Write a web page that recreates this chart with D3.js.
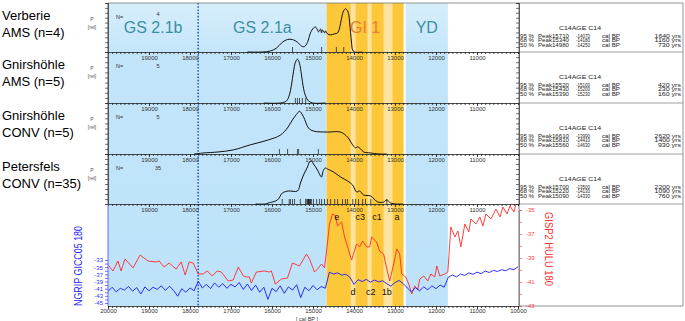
<!DOCTYPE html>
<html>
<head>
<meta charset="utf-8">
<script src="https://cdn.jsdelivr.net/npm/d3@7"></script>
<style>
body{margin:0;background:#fff;}
svg{font-family:"Liberation Sans",Arial,sans-serif;}
</style>
</head>
<body>
<svg id="chart" width="685" height="321"></svg>
<script>
// ---- data ----
var siteLabels = [["Verberie","AMS (n=4)"],["Gnirshöhle","AMS (n=5)"],["Gnirshöhle","CONV (n=5)"],["Petersfels","CONV (n=35)"]];
var sampleN = [4,5,5,35];

// summed probability curves [cal BP, relative P]
var pdfVerberieAMS = [[16600,0],[16235,0],[16040,0.02],[15890,0.08],[15746,0.20],[15624,0.255],[15501,0.255],[15379,0.20],[15281,0.12],[15208,0.11],[15134,0.20],[15061,0.39],[14988,0.49],[14939,0.51],[14890,0.45],[14866,0.41],[14817,0.47],[14793,0.39],[14768,0.45],[14719,0.39],[14695,0.43],[14646,0.37],[14573,0.35],[14474,0.37],[14401,0.39],[14352,0.49],[14303,0.69],[14254,0.84],[14205,0.88],[14156,0.84],[14132,0.78],[14107,0.61],[14083,0.39],[14059,0.18],[14034,0.04],[13985,0],[13800,0]];
var pdfGnirsAMS = [[16200,0],[15795,0],[15648,0.04],[15575,0.16],[15526,0.35],[15477,0.61],[15428,0.80],[15379,0.86],[15330,0.78],[15281,0.55],[15232,0.29],[15183,0.14],[15110,0.04],[15012,0],[14700,0]];
var pdfGnirsCONV = [[17900,0],[17677,0.02],[17311,0.04],[16944,0.08],[16528,0.18],[16112,0.27],[15795,0.37],[15624,0.51],[15501,0.67],[15379,0.80],[15330,0.84],[15232,0.73],[15110,0.51],[14988,0.45],[14646,0.43],[14328,0.43],[14156,0.33],[14034,0.18],[13961,0.12],[13912,0.14],[13839,0.10],[13765,0.04],[13594,0.02],[13399,0],[13200,0]];
var pdfPetersCONV = [[16400,0],[16161,0],[16088,0.02],[15868,0.08],[15746,0.22],[15599,0.26],[15379,0.26],[15306,0.42],[15232,0.58],[15134,0.74],[15085,0.84],[15037,0.86],[14988,0.80],[14890,0.68],[14817,0.56],[14793,0.54],[14743,0.68],[14695,0.72],[14646,0.70],[14499,0.64],[14328,0.54],[14156,0.46],[14034,0.38],[13936,0.24],[13863,0.26],[13765,0.18],[13594,0.16],[13423,0.04],[13276,0.04],[13203,0.08],[13105,0.02],[12983,0],[12800,0]];

// single dates (cal BP) marked under the curves
var datesVerberieAMS = [15500,14790,14430,14250];
var datesGnirsAMS = [15430,15380,15330,15260,15180];
var datesGnirsCONV = [15820,15620,15380,15350,14870];
var datesPetersCONV = [15750,15580,15550,15500,15450,15310,15180,15150,15130,15120,15110,15100,15090,15070,15060,15040,14990,14910,14840,14790,14720,14650,14570,14470,14400,14280,14210,14160,14030,13960,13890,13790,13720,13590,13200];

// [level %, from, to, span yrs]
var statsVerberieAMS = [[95,15710,14070,1640],[68,15340,14180,1160],[50,14980,14250,730]];
var statsGnirsAMS = [[95,15520,15100,420],[68,15430,15200,230],[50,15390,15230,160]];
var statsGnirsCONV = [[95,16610,13990,2620],[68,15810,14410,1400],[50,15560,14630,930]];
var statsPetersCONV = [[95,15700,13500,2200],[68,15220,14130,1090],[50,15090,14330,760]];

// climate periods (cal BP)
var periods = [["GS 2.1b",20000,17800,"stadial"],["GS 2.1a",17800,14670,"stadial"],["GI 1",14670,12790,"gi"],["YD",12740,11710,"stadial"]];
var giLightPhases = [[14080,13960],[13670,13570],[13280,13060]];
var gsBoundary = 17800;
var giEvents = [["e",14420,"top"],["c3",13850,"top"],["c1",13440,"top"],["a",12950,"top"],["d",14025,"bottom"],["c2",13590,"bottom"],["1b",13200,"bottom"]];

// GISP2 HULU d18O [cal BP, permil]
var gisp2 = [[20000,-39.58],[19878,-40.08],[19756,-39.25],[19682,-40.08],[19584,-39.08],[19389,-39.83],[19218,-38.75],[19022,-39.25],[18826,-39.33],[18753,-39.25],[18631,-39.75],[18509,-39.42],[18337,-39.92],[18215,-39.33],[18117,-40.42],[18020,-39.33],[17922,-39.42],[17800,-40.33],[17677,-40.33],[17579,-40.08],[17457,-40.5],[17335,-40.08],[17237,-40.17],[17066,-40.92],[16944,-40.83],[16822,-39.75],[16699,-40.5],[16626,-40.58],[16553,-40.58],[16504,-41.08],[16381,-40.17],[16186,-40.08],[16064,-40.17],[16015,-40.08],[15917,-41.17],[15770,-40.75],[15623,-40.67],[15501,-39.42],[15330,-39.67],[15159,-38.67],[15085,-39.08],[14963,-40.17],[14890,-39.92],[14792,-39.5],[14719,-39.83],[14670,-38.42],[14597,-36.17],[14523,-35.33],[14450,-35.5],[14401,-36.33],[14303,-36.0],[14230,-37.25],[14156,-38.08],[14059,-39.17],[13936,-37.83],[13863,-38.08],[13790,-37.58],[13692,-38.08],[13618,-38.08],[13570,-37.25],[13447,-37.67],[13374,-38.42],[13276,-38.67],[13227,-39.5],[13130,-40.92],[13032,-39.5],[12958,-38.25],[12885,-38.67],[12836,-40.33],[12738,-40.58],[12665,-41.17],[12592,-42.0],[12518,-41.33],[12445,-41.67],[12396,-40.75],[12298,-40.5],[12200,-40.92],[12127,-40.33],[12029,-40.58],[11980,-39.67],[11907,-40.5],[11785,-40.33],[11711,-40.17],[11638,-36.42],[11540,-37.25],[11467,-36.75],[11394,-38.08],[11296,-36.17],[11198,-36.83],[11149,-35.75],[11027,-36.17],[10929,-35.58],[10856,-36.33],[10782,-35.33],[10660,-35.75],[10538,-34.92],[10440,-35.58],[10367,-34.75],[10269,-35.33],[10196,-34.67],[10098,-35.17],[10049,-34.5]];

// NGRIP GICC05 d18O [cal BP, permil]
var ngrip = [[20000,-41.8],[19900,-40.6],[19800,-41.9],[19700,-40.9],[19600,-41.4],[19500,-40.4],[19400,-41.7],[19300,-40.7],[19200,-42.5],[19100,-40.5],[19000,-41.6],[18900,-40.6],[18800,-41.2],[18700,-40.2],[18600,-41.5],[18500,-40.3],[18400,-41.5],[18300,-43.1],[18200,-41.0],[18100,-42.0],[18000,-40.8],[17900,-41.6],[17800,-38.9],[17700,-40.8],[17600,-39.8],[17500,-41.0],[17400,-39.4],[17300,-40.6],[17200,-39.6],[17100,-40.9],[17000,-39.8],[16900,-40.5],[16800,-39.3],[16700,-41.2],[16600,-39.7],[16500,-41.5],[16400,-40.0],[16300,-42.0],[16200,-40.6],[16100,-44.0],[16000,-40.9],[15900,-41.8],[15800,-40.2],[15700,-42.3],[15600,-40.5],[15500,-41.4],[15400,-39.9],[15300,-43.5],[15200,-40.6],[15100,-41.6],[15000,-40.1],[14900,-41.3],[14800,-40.4],[14700,-40.9],[14600,-36.4],[14500,-36.9],[14400,-36.6],[14300,-37.2],[14200,-37.0],[14100,-37.8],[14000,-39.8],[13900,-38.5],[13800,-39.0],[13700,-38.4],[13600,-39.2],[13500,-38.6],[13400,-39.1],[13300,-38.8],[13200,-39.6],[13100,-40.3],[13000,-39.3],[12900,-38.7],[12800,-39.6],[12700,-40.8],[12600,-41.9],[12500,-40.7],[12400,-41.6],[12300,-40.5],[12200,-41.3],[12100,-40.2],[12000,-41.0],[11900,-40.0],[11800,-40.6],[11700,-37.8],[11600,-37.2],[11500,-37.7],[11400,-36.9],[11300,-37.3],[11200,-36.6],[11100,-37.0],[11000,-36.4],[10900,-36.8],[10800,-36.1],[10700,-36.5],[10600,-35.9],[10500,-36.2],[10400,-35.7],[10300,-36.0],[10200,-35.4],[10100,-35.7],[10000,-34.9]];

var pdfs = [pdfVerberieAMS,pdfGnirsAMS,pdfGnirsCONV,pdfPetersCONV];
var dates = [datesVerberieAMS,datesGnirsAMS,datesGnirsCONV,datesPetersCONV];
var stats = [statsVerberieAMS,statsGnirsAMS,statsGnirsCONV,statsPetersCONV];

// ---- layout ----
var plotLeft = 108, plotRight = 519, boxRight = 683;
var panelTop = [3,52,103,154], panelBottom = [52,103,154,204];
var climTop = 204, climBottom = 306;
var stadialColor = "url(#stadGrad)", giColor = "#fcc83a", giLight = "#fde39e";
var labelTeal = "#3e8ea2";

var svg = d3.select("#chart");
var x = d3.scaleLinear().domain([20000,10000]).range([plotLeft,518]);

var defs = svg.append("defs");
var grad = defs.append("linearGradient").attr("id","stadGrad")
    .attr("gradientUnits","userSpaceOnUse").attr("x1",0).attr("x2",0).attr("y1",3).attr("y2",306);
grad.append("stop").attr("offset",0).attr("stop-color","#d7eefc");
grad.append("stop").attr("offset",0.17).attr("stop-color","#c3e5fa");
grad.append("stop").attr("offset",1).attr("stop-color","#bde2f9");
defs.append("clipPath").attr("id","climClip").append("rect")
    .attr("x",plotLeft).attr("y",climTop).attr("width",plotRight-plotLeft).attr("height",climBottom-climTop);

//#region background bands
svg.selectAll("rect.period")
    .data(periods)
    .join("rect")
    .attr("class","period")
    .attr("x",d => x(d[1]))
    .attr("width",d => x(d[2]) - x(d[1]))
    .attr("y",panelTop[0])
    .attr("height",climBottom - panelTop[0])
    .attr("fill",d => d[3] == "gi" ? giColor : stadialColor);

svg.selectAll("rect.gilight")
    .data(giLightPhases)
    .join("rect")
    .attr("class","gilight")
    .attr("x",d => x(d[0]))
    .attr("width",d => x(d[1]) - x(d[0]))
    .attr("y",panelTop[0])
    .attr("height",climBottom - panelTop[0])
    .attr("fill",giLight);

svg.append("line")
    .attr("x1",x(gsBoundary)).attr("x2",x(gsBoundary))
    .attr("y1",panelTop[0]).attr("y2",climBottom)
    .attr("stroke","#2a5fd8").attr("stroke-width",1.6)
    .attr("stroke-dasharray","1.6,1.6");

svg.selectAll("text.period")
    .data(periods)
    .join("text")
    .attr("class","period")
    .text(d => d[0])
    .attr("x",d => x((d[1]+d[2])/2))
    .attr("y",33)
    .attr("text-anchor","middle")
    .attr("font-size",16)
    .attr("fill",d => d[3] == "gi" ? "#ea7b3b" : labelTeal);
//#endregion

//#region frame
svg.append("line").attr("x1",plotLeft).attr("x2",boxRight).attr("y1",panelTop[0]).attr("y2",panelTop[0]).attr("stroke","#777").attr("stroke-width",0.8);
svg.append("line").attr("x1",boxRight).attr("x2",boxRight).attr("y1",panelTop[0]).attr("y2",climBottom).attr("stroke","#777").attr("stroke-width",0.8);
svg.append("line").attr("x1",plotRight).attr("x2",boxRight).attr("y1",climBottom).attr("y2",climBottom).attr("stroke","#777").attr("stroke-width",0.8);
panelBottom.forEach(function(b){
    svg.append("line").attr("x1",plotRight).attr("x2",boxRight).attr("y1",b).attr("y2",b).attr("stroke","#888").attr("stroke-width",0.8);
});
svg.append("line").attr("x1",plotRight).attr("x2",plotRight).attr("y1",panelTop[0]).attr("y2",climBottom).attr("stroke","#555").attr("stroke-width",0.8);
//#endregion

//#region probability panels
var minorTicks = d3.range(10000,20001,100);
var majorTicks = d3.range(11000,19001,1000);
var statFont = 4.5;

function statText(str,xx,yy,len,anchor){
    svg.append("text").text(str)
        .attr("x",xx).attr("y",yy)
        .attr("text-anchor",anchor || "start")
        .attr("font-size",statFont)
        .attr("textLength",len).attr("lengthAdjust","spacingAndGlyphs")
        .attr("fill","#222");
}

siteLabels.forEach(function(lab,i){
    let top = panelTop[i], bottom = panelBottom[i];
    let y = d3.scaleLinear().domain([0,1]).range([bottom,top]);

    svg.append("text").text(lab[0]).attr("x",2).attr("y",top+17).attr("font-size",13);
    svg.append("text").text(lab[1]).attr("x",2).attr("y",top+34).attr("font-size",13);
    svg.append("text").text("P").attr("x",92).attr("y",top+18).attr("font-size",5).attr("fill","#555").attr("text-anchor","middle");
    svg.append("text").text("[rel]").attr("x",92).attr("y",top+26).attr("font-size",5).attr("fill","#555").attr("text-anchor","middle");
    svg.append("text").text("N=").attr("x",116).attr("y",top+16).attr("font-size",5.5).attr("fill","#333");
    svg.append("text").text(sampleN[i]).attr("x",158).attr("y",top+(i==0 ? 13 : 16)).attr("font-size",5.5).attr("fill","#333").attr("text-anchor","middle");

    // left and right P ticks
    svg.append("g").attr("transform","translate(" + plotLeft + ",0)")
        .call(d3.axisLeft(y).tickValues(d3.range(0,1.01,0.1)).tickSize(3).tickFormat(""))
        .call(g => g.selectAll("line,path").attr("stroke","#333").attr("stroke-width",0.7));
    svg.append("g").attr("transform","translate(" + plotRight + ",0)")
        .call(d3.axisLeft(y).tickValues(d3.range(0,1.01,0.1)).tickSize(3).tickFormat(""))
        .call(g => g.selectAll("line,path").attr("stroke","#333").attr("stroke-width",0.7));

    // time axis
    svg.append("g").attr("transform","translate(0," + bottom + ")")
        .call(d3.axisBottom(x).tickValues(minorTicks).tickSize(2).tickFormat(""))
        .call(g => g.selectAll("line,path").attr("stroke","#222").attr("stroke-width",0.8));
    svg.append("g").attr("transform","translate(0," + bottom + ")")
        .call(d3.axisBottom(x).tickValues(majorTicks).tickSize(3).tickPadding(1).tickFormat(d3.format("d")))
        .call(g => g.select(".domain").remove())
        .call(g => g.selectAll("line").attr("stroke","#222").attr("stroke-width",0.8))
        .call(g => g.selectAll("text").attr("font-size",6).attr("fill","#333").attr("font-family","Liberation Sans, Arial, sans-serif"));

    // curve
    svg.append("path")
        .datum(pdfs[i])
        .attr("d",d3.line().x(d => x(d[0])).y(d => y(d[1])).curve(d3.curveCatmullRom.alpha(0.5)))
        .attr("fill","none").attr("stroke","#111").attr("stroke-width",1);

    // dates
    svg.selectAll("line.date" + i)
        .data(dates[i])
        .join("line")
        .attr("class","date" + i)
        .attr("x1",d => x(d)).attr("x2",d => x(d))
        .attr("y1",bottom).attr("y2",bottom - 5)
        .attr("stroke","#111").attr("stroke-width",0.7);

    // stats
    statText("C14AGE  C14",580,top+27,42,"middle");
    stats[i].forEach(function(s,j){
        let yy = top + 35 + j*4.3;
        statText(s[0] + " %",520,yy,14);
        statText("Peak" + s[1],538,yy,31);
        statText("-" + s[2],576,yy,14);
        statText("cal BP",602,yy,18);
        statText(s[3] + " yrs",681,yy,(String(s[3]).length + 4)*3.3,"end");
    });
});
svg.append("line").attr("x1",plotLeft).attr("x2",plotLeft).attr("y1",panelTop[0]).attr("y2",climTop).attr("stroke","#333").attr("stroke-width",0.8);
//#endregion

//#region climate panel
var gispY = d3.scaleLinear().domain([-43,-35]).range([306,210]);
var ngripY = d3.scaleLinear().domain([-45,-33]).range([303,260]);

var clim = svg.append("g").attr("clip-path","url(#climClip)");
clim.append("path")
    .datum(gisp2)
    .attr("d",d3.line().x(d => x(d[0])).y(d => gispY(d[1])))
    .attr("fill","none").attr("stroke","#ff2a2a").attr("stroke-width",0.9);
clim.append("path")
    .datum(ngrip)
    .attr("d",d3.line().x(d => x(d[0])).y(d => ngripY(d[1])))
    .attr("fill","none").attr("stroke","#1a1aff").attr("stroke-width",0.9);

svg.selectAll("text.event")
    .data(giEvents)
    .join("text")
    .attr("class","event")
    .text(d => d[0])
    .attr("x",d => x(d[1]))
    .attr("y",d => d[2] == "top" ? 220 : 295)
    .attr("text-anchor","middle")
    .attr("font-size",9)
    .attr("fill","#111");

// left NGRIP axis
svg.append("line").attr("x1",plotLeft).attr("x2",plotLeft).attr("y1",climTop).attr("y2",climBottom).attr("stroke","#6a6aff").attr("stroke-width",1);
svg.append("g").attr("transform","translate(" + plotLeft + ",0)")
    .call(d3.axisLeft(ngripY).tickValues(d3.range(-45,-32,1)).tickSize(3).tickPadding(2)
        .tickFormat(d => Math.abs(d) % 2 == 1 ? d : ""))
    .call(g => g.select(".domain").remove())
    .call(g => g.selectAll("line").attr("stroke","#3a3aff").attr("stroke-width",0.7))
    .call(g => g.selectAll("text").attr("font-size",6).attr("fill","#3030ff").attr("font-family","Liberation Sans, Arial, sans-serif"));
svg.append("text").text("NGRIP GICC05 180")
    .attr("transform","translate(82,266) rotate(-90)")
    .attr("text-anchor","middle").attr("font-size",11)
    .attr("textLength",80).attr("lengthAdjust","spacingAndGlyphs")
    .attr("fill","#2020ff");

// right GISP2 axis
svg.append("g").attr("transform","translate(" + plotRight + ",0)")
    .call(d3.axisRight(gispY).tickValues(d3.range(-43,-34,1)).tickSize(3).tickPadding(4)
        .tickFormat(d => Math.abs(d) % 2 == 1 ? d : ""))
    .call(g => g.select(".domain").attr("stroke","#888"))
    .call(g => g.selectAll(".tick line").attr("stroke","#ff5050").attr("stroke-width",0.7))
    .call(g => g.selectAll("text").attr("font-size",6).attr("fill","#ff4040").attr("font-family","Liberation Sans, Arial, sans-serif"));
svg.append("text").text("GISP2 HULU 180")
    .attr("transform","translate(545,249) rotate(90)")
    .attr("text-anchor","middle").attr("font-size",10)
    .attr("textLength",74).attr("lengthAdjust","spacingAndGlyphs")
    .attr("fill","#ff3030");

// bottom time axis
svg.append("g").attr("transform","translate(0," + climBottom + ")")
    .call(d3.axisBottom(x).tickValues(minorTicks).tickSize(2).tickFormat(""))
    .call(g => g.selectAll("line,path").attr("stroke","#222").attr("stroke-width",0.8));
svg.append("g").attr("transform","translate(0," + climBottom + ")")
    .call(d3.axisBottom(x).tickValues(d3.range(10000,20001,1000)).tickSize(3).tickPadding(0).tickFormat(d3.format("d")))
    .call(g => g.select(".domain").remove())
    .call(g => g.selectAll("line").attr("stroke","#222").attr("stroke-width",0.8))
    .call(g => g.selectAll("text").attr("font-size",6).attr("fill","#333").attr("font-family","Liberation Sans, Arial, sans-serif"));
svg.append("text").text("[  cal BP  ]").attr("x",307).attr("y",320.5).attr("text-anchor","middle").attr("font-size",5.5).attr("fill","#333");
//#endregion
</script>
</body>
</html>
